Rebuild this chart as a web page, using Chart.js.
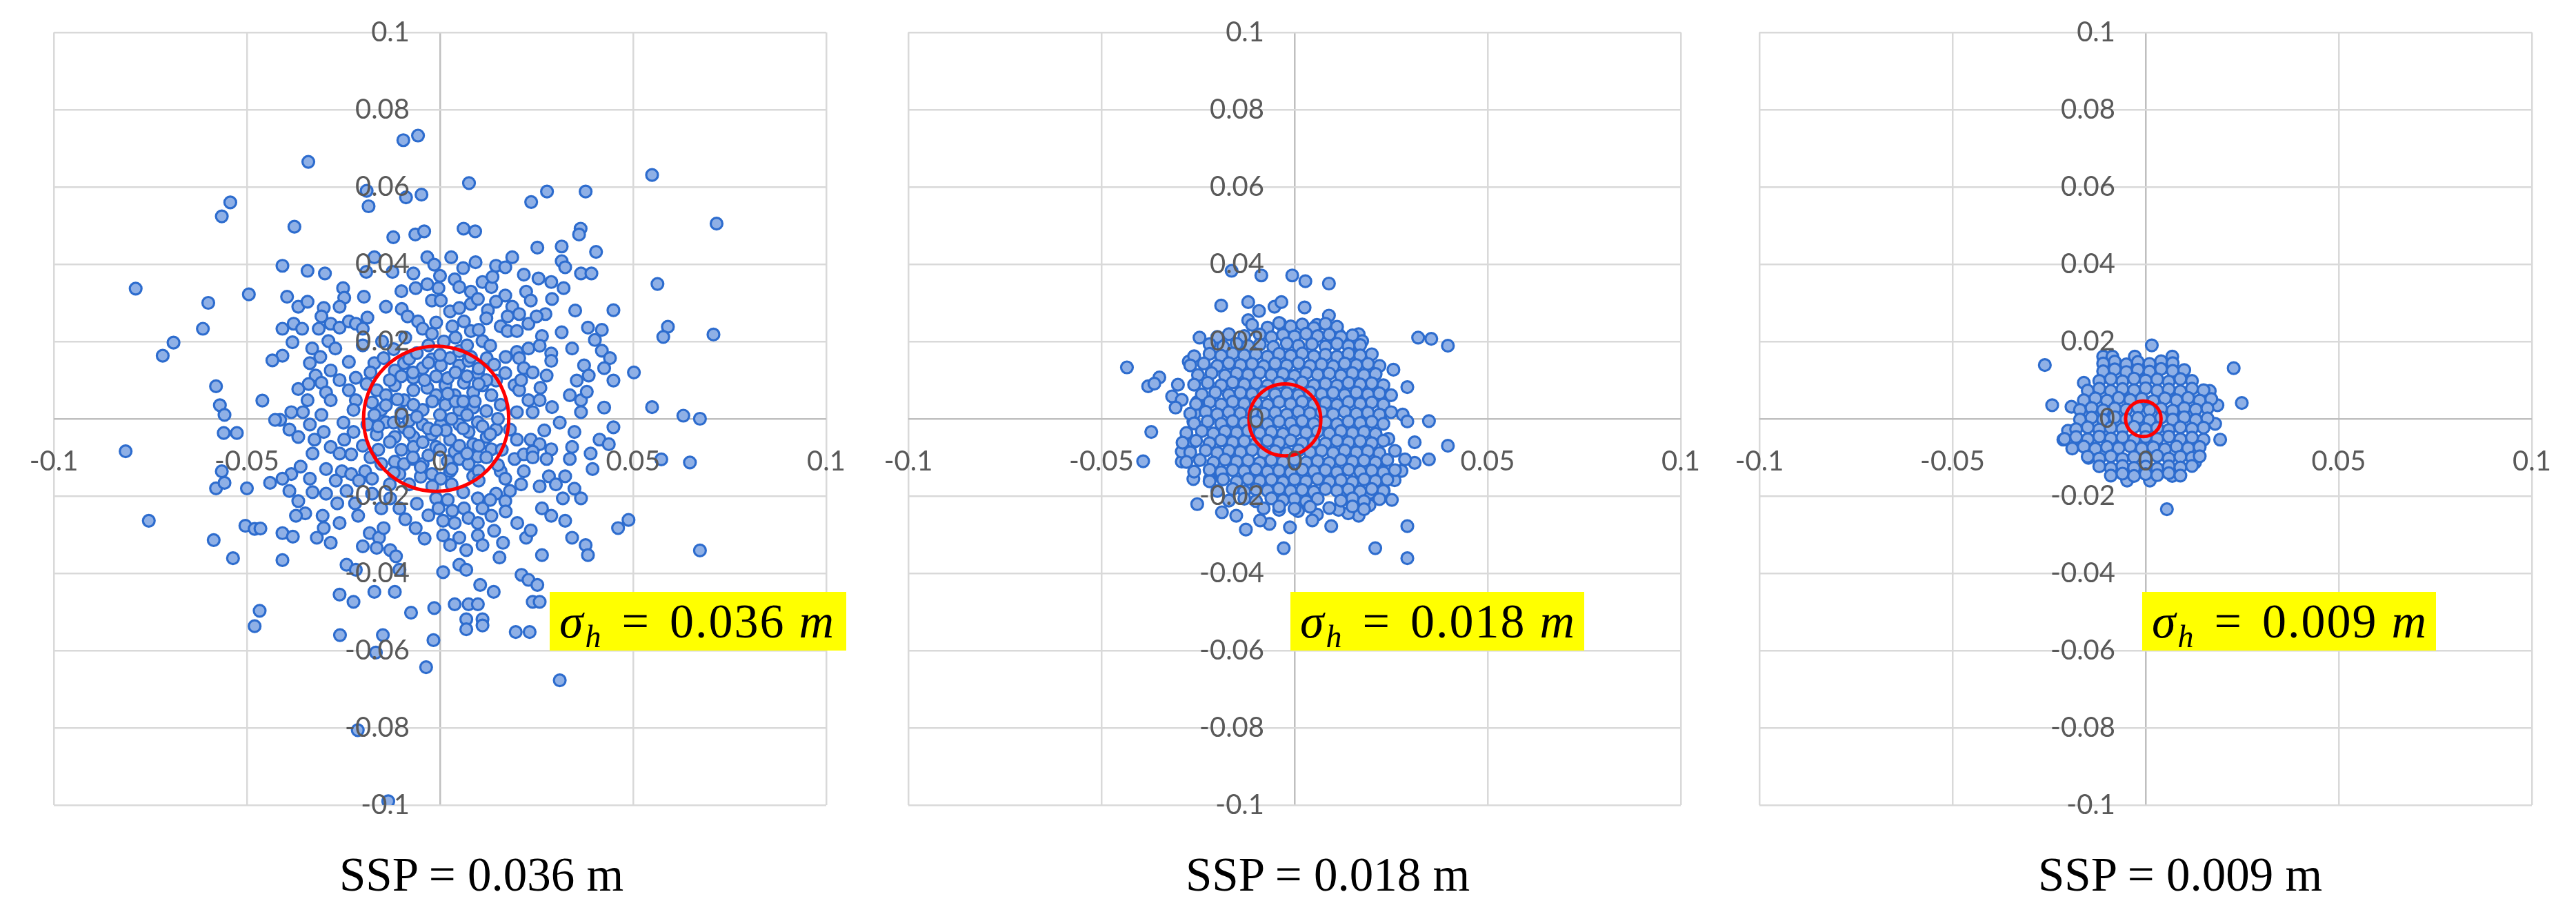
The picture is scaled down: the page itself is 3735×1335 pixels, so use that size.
<!DOCTYPE html>
<html>
<head>
<meta charset="utf-8">
<script src="https://cdn.jsdelivr.net/npm/chart.js@4.4.0/dist/chart.umd.min.js"></script>
<style>
  body { margin: 0; width: 3735px; height: 1335px; background: #fff; position: relative; overflow: hidden; }
  canvas { position: absolute; top: 0; }
  .tag { position: absolute; top: 858px; height: 85px; line-height: 85px; background: #ffff00; color: #000;
         font-family: "Liberation Serif", serif; font-size: 70px; white-space: nowrap; box-sizing: border-box; padding-left: 14px; }
  .tag i { font-style: italic; }
  .tag sub { font-size: 46px; font-style: italic; vertical-align: baseline; position: relative; top: 14px; margin-left: 3px; }
  .tag .eq { margin: 0 30px 0 30px; }
  .tag .num { letter-spacing: 2px; }
  .tag .u { margin-left: 20px; }
  .cap { position: absolute; top: 1228px; width: 600px; height: 80px; line-height: 80px; text-align: center;
         font-family: "Liberation Serif", serif; font-size: 69px; color: #000; white-space: nowrap; }
</style>
</head>
<body>
<canvas id="c1" width="1240" height="1230" style="left:18px"></canvas>
<canvas id="c2" width="1240" height="1230" style="left:1257px"></canvas>
<canvas id="c3" width="1240" height="1230" style="left:2491px"></canvas>

<div class="tag" style="left:797px;width:430px"><i>σ</i><sub>h</sub><span class="eq">=</span><span class="num">0.036</span><i class="u">m</i></div>
<div class="tag" style="left:1871px;width:426px"><i>σ</i><sub>h</sub><span class="eq">=</span><span class="num">0.018</span><i class="u">m</i></div>
<div class="tag" style="left:3106px;width:426px"><i>σ</i><sub>h</sub><span class="eq">=</span><span class="num">0.009</span><i class="u">m</i></div>

<div class="cap" style="left:398px">SSP = 0.036 m</div>
<div class="cap" style="left:1625px">SSP = 0.018 m</div>
<div class="cap" style="left:2861px">SSP = 0.009 m</div>

<script>
// point positions in mm
const ssp036 = [
  [25.2,44.3],[31.5,44.6],[40.4,43.2],[-3.3,41.8],[2.9,41.8],[18.7,41.8],[-17.0,41.8],[-40.8,39.6],[-34.3,38.3],[-29.8,37.6],
  [31.5,40.8],[32.4,39.2],[36.5,37.6],[39.2,37.6],[21.7,37.3],[14.5,39.6],[9.2,40.5],[16.9,39.2],[-1.5,39.9],[-6.9,37.6],
  [-12.3,38.0],[-19.1,38.0],[25.5,36.3],[28.8,35.4],[32.0,33.8],
  [-25.1,33.8],[-39.6,31.6],[-36.7,29.0],[-34.3,30.3],[-30.1,28.7],[-24.8,31.3],[-19.7,31.6],[-6.3,33.8],[-3.3,34.8],[-0.4,33.8],
  [3.8,36.1],[5.0,34.1],[8.0,32.9],[11.0,35.4],[13.3,34.1],[13.6,36.7],[16.9,31.9],[22.3,32.9],[23.5,30.6],[27.3,27.1],
  [-2.1,30.6],[0.2,30.6],[2.6,27.8],[5.0,28.7],[8.0,29.7],[9.8,31.0],[12.4,28.1],[14.5,30.3],[18.7,29.0],[20.5,27.1],
  [17.5,26.5],[44.9,28.1],[-9.9,28.4],[-8.4,26.5],[-5.7,25.2],[-1.0,24.9],
  [-40.8,23.3],[-37.9,24.6],[-35.7,23.3],[-30.7,26.5],[-28.3,24.6],[-31.4,23.3],[-26.0,23.6],[-23.6,25.2],[-21.8,24.6],[-18.8,26.2],
  [-20.0,23.3],[-38.2,19.8],[-33.1,18.2],[-28.9,20.1],[-27.1,18.2],[-4.5,23.3],[-2.1,22.0],[3.2,23.9],[6.2,25.2],[8.0,22.7],
  [11.0,20.1],[13.0,18.9],[15.7,23.9],[17.5,22.7],[19.9,22.7],[22.9,24.6],[25.0,26.5],[26.4,21.4],[31.5,22.4],[38.3,23.6],
  [41.9,23.0],[40.1,20.4],[34.2,18.2],[19.9,17.3],[22.9,18.2],[25.8,18.9],[28.8,16.9],[41.9,17.6],[44.0,15.7],
  [-40.8,16.3],[-33.7,14.4],[-32.2,11.2],[-28.3,12.5],[-30.7,9.3],[-23.6,14.7],[-21.8,10.6],[-17.0,14.4],[-14.6,15.7],[-11.7,12.5],
  [-9.3,14.4],[-6.9,10.6],[-4.5,13.1],[-2.1,15.4],[0.2,13.8],[2.6,15.7],[5.0,13.8],[7.4,15.0],[9.8,11.8],[12.1,15.7],
  [14.5,9.9],[16.9,11.8],[20.5,15.7],[21.7,13.1],[19.3,8.7],[27.6,11.2],[28.8,15.0],[37.3,13.8],[38.5,11.2],[42.5,13.1],
  [44.9,9.9],[35.4,9.9],
  [-36.7,7.7],[-34.3,4.8],[-29.5,6.8],[-28.3,4.8],[-23.6,7.4],[-21.8,4.8],[-38.5,1.7],[-35.5,1.7],[-30.7,1.0],[-22.4,2.3],
  [-16.4,7.4],[-14.0,6.1],[-11.7,8.7],[-9.3,4.8],[-6.9,7.4],[-3.3,8.0],[-1.0,6.1],[1.4,8.7],[3.8,6.1],[6.2,9.3],
  [8.6,6.8],[11.0,8.7],[13.3,6.1],[15.7,3.6],[8.6,2.9],[5.0,2.3],[1.4,3.6],[-4.5,2.3],[-6.9,3.6],[-15.2,2.3],
  [-17.6,4.2],[20.5,7.4],[22.9,4.8],[25.8,4.8],[24.0,1.7],[33.6,6.1],[36.5,4.8],[36.5,1.7],[42.5,2.9],[19.9,1.7],
  [-41.4,-0.3],[-39.0,-2.8],[-36.7,-4.7],[-33.7,-1.5],[-32.5,-5.4],[-30.1,-3.4],[-28.3,-7.3],[-24.8,-5.4],[-22.4,-3.4],[-23.0,-9.2],
  [-18.8,-1.5],[-16.4,-4.1],[-14.0,-0.9],[-11.7,-4.7],[-9.3,-2.2],[-6.9,-4.7],[-4.5,-1.5],[-2.1,-4.1],[0.2,-1.5],[2.6,-5.4],
  [5.0,-1.5],[7.4,-3.4],[9.8,-0.9],[12.1,-4.7],[14.5,-2.8],[13.3,-7.9],[18.1,-2.8],[19.9,-5.4],[23.5,-5.4],[25.8,-6.6],
  [28.8,-7.9],[34.8,-3.4],[44.9,-2.2],[41.3,-5.4],[43.7,-6.6],[-6.9,-7.3],[-4.5,-6.1],[-1.0,-7.3],[3.8,-8.5],[8.6,-6.6],
  [-38.5,-14.3],[-36.1,-12.4],[-33.7,-15.5],[-40.8,-15.5],[-29.5,-13.0],[-25.4,-13.6],[-23.0,-14.3],[-19.4,-13.6],[-17.6,-15.5],[-15.2,-11.7],
  [-11.7,-11.1],[-9.3,-11.7],[-10.5,-14.3],[-6.9,-10.4],[-4.5,-11.7],[-2.1,-14.3],[0.2,-15.5],[2.6,-13.6],[5.0,-10.4],[7.4,-11.7],
  [9.8,-9.8],[8.6,-14.9],[15.7,-13.6],[16.9,-15.5],[19.3,-10.4],[21.7,-9.2],[24.0,-8.5],[27.6,-10.4],[28.2,-14.9],[25.8,-17.5],
  [32.4,-14.9],[34.8,-18.1],[33.6,-10.4],[34.2,-7.3],[39.5,-13.0],[21.7,-13.6],
  [-39.0,-18.7],[-36.7,-21.3],[-34.9,-24.5],[-37.3,-25.1],[-29.5,-19.4],[-26.6,-21.9],[-24.2,-18.7],[-22.0,-21.9],[-17.6,-19.4],[-15.2,-23.2],
  [-12.9,-20.6],[-10.5,-23.2],[-1.0,-20.6],[-0.4,-23.2],[3.2,-23.8],[6.2,-23.2],[9.8,-20.6],[11.0,-23.2],[13.3,-25.1],[14.5,-19.4],
  [18.1,-18.7],[16.9,-21.3],[26.4,-23.2],[28.8,-25.1],[31.8,-20.6],[32.4,-26.4],[36.5,-20.6],[0.8,-26.4],[3.8,-27.0],[7.4,-25.7],
  [9.8,-27.0],[-21.2,-25.1],[-30.4,-25.1],
  [-40.8,-29.6],[-38.1,-30.5],[-31.9,-30.8],[-28.3,-32.1],[-30.1,-28.3],[-18.2,-29.6],[-15.8,-30.8],[-14.6,-28.3],[-16.4,-33.4],[-12.9,-34.0],
  [-6.3,-28.3],[0.8,-30.2],[2.6,-32.7],[5.0,-30.8],[6.8,-34.0],[9.8,-30.2],[11.0,-32.7],[16.3,-32.1],[22.3,-30.8],[23.5,-28.9],
  [26.4,-35.3],[34.2,-30.8],[37.7,-32.7],[38.3,-35.3],[46.1,-28.3],[-40.8,-36.6],[-11.4,-35.6],[15.4,-35.9],
  [-24.2,-37.8],[-21.8,-39.1],[-10.5,-39.1],[0.8,-39.7],[5.0,-37.8],[6.8,-39.1],[21.1,-40.4],[22.9,-41.7],[25.2,-43.0],[-26.0,-45.5],
  [-22.4,-47.4],[-17.0,-44.8],[-11.7,-44.8],[10.4,-43.0],[13.9,-44.8],[3.8,-48.0],[7.4,-48.0],[9.8,-48.0],[24.0,-47.4],[25.8,-47.4],
  [-7.5,-50.2],[-1.5,-49.0],[6.8,-51.9],[11.0,-51.9],
  [-14,3.5],[-12,-1],[-10,1.5],[-8,-0.5],[-6,0.5],[-3,-2.5],[-2,4.5],[0,1],[1.5,-3],[3,0],
  [4,4.5],[6,-2.5],[7,1],[9,4.5],[11,-2],[12,2],[-13,10],[-10,11],[-7,12],[-4,10],
  [-1,11],[2,10.5],[4,12],[7,11],[10,13],[12,10],[-16,-8],[-13,-6],[-10,-8],[-7,-10],
  [-3,-9.5],[0,-8],[2,-11],[5,-7],[7,-9],[10,-7],[12,-10],[-8,15.5],[0,16.5],[5,17.5],
  [-5,-15],[3,-17],[-12,-14],[10,-13.5],[15,0],[16,-8],[-17,1],[-19,9],[-2,-17.5],[8,16],
  [-26,10],[-25,-1],[-20,-7],[-18,12],[-15,20],[-12,18],[-9,21],[-6,17],[-3,19],[1,20],
  [4,21],[7,19],[10,23],[14,14],[17,16],[21,10],[24,12],[26,8],[29,3],[31,-1],
  [27,-3],[24,-10],[21,-17],[17,-24],[13,-21],[10,-16],[6,-19],[2,-21],[-3,-25],[-6,-22],
  [-8,-17],[-13,-17],[-18,-10],[-21,-16],[-26,-9],[-27,-16],[-33,-9],[-34,9],[-31,16],[-26,29],
  [-14,29],[-10,33],[0,37],[6,39],[12,26],[29,31],[35,28],[38,7],[39,-9],[30,-17],
  [20,-27],[14,-29],[-4,-31],[-9,-26],[-20,-33],[-26,-27],[-33,-19],[-5,-12.5],[-1,-3],[3,-13],
  [6,4.5],[-11,5],[-16,-2],[13,-4],[-8,-3.5],[2,6.5],[10,9],[-3,14.5],[-20,19],[15,-12],
  [-78.8,33.7],[-81.4,-8.4],[-75.4,-26.4],[-71.8,16.3],[-69,19.7],[-61.4,23.3],[-60,30],[-56.5,52.4],[-54.3,56],[-58,8.4],
  [-57,3.5],[-55.8,1],[-56,-3.7],[-52.6,-3.7],[-56.5,-13.6],[-58,-18],[-55.8,-16.6],[-58.6,-31.4],[-53.6,-36.1],[-50,-18],
  [-50.4,-27.7],[-48,-28.5],[-46.5,-28.4],[-48,-53.7],[-46.7,-49.7],[-49.5,32.2],[-46,4.7],[-44,-16.6],[-42.7,-0.3],[-43.4,15.1],
  [-37.7,49.7],[-34.1,66.5],[-9.5,72.1],[-5.7,73.3],[7.5,61],[-18.5,55],[-19,59],[-8.8,57.3],[-4.8,58],[-12.1,47],
  [-6.4,47.7],[-4.1,48.5],[6.1,49.2],[9.1,48.5],[23.6,56.1],[27.7,58.8],[37.7,58.8],[54.9,63.1],[71.6,50.5],[36.4,49.2],
  [36,47.7],[56.3,34.9],[59,23.8],[57.8,21.2],[70.8,21.8],[50.2,12],[54.9,3],[63,0.8],[67.3,0],[57.3,-10.5],
  [64.7,-11.3],[67.3,-34.1],[48.8,-26.2],[31,-67.7],[23.2,-55.2],[19.6,-55.2],[-1.7,-57.3],[-3.6,-64.3],[-14.8,-56],[-16.6,-60.5],
  [-21.3,-80.6],[-13.4,-99],[-25.9,-56],[6.8,-54.5],[11,-53.5]
];

const ssp018 = [
  [-43.4,13.3],[-37.9,8.4],[-35,10.7],[-36.3,9.1],[-39.2,-11],[-37.1,-3.4],[-31.7,5.8],[-30.2,8.8],[-29.2,4.9],[-30.8,2.9],
  [-27.4,14.8],[-24.6,21],[-19,29.3],[-16.3,38.3],[-8.6,37.1],[-12,30.2],[-9.2,27.9],[-5.2,29],[-3.4,30.2],[-0.6,37.1],
  [2.8,35.6],[8.9,35],[2.6,28.8],[8.9,26.7],[-12,25.5],[-3.7,24.6],[5.8,24.3],[11.4,21.9],[16.6,21.9],[17.5,20.1],
  [16.6,16.8],[32,21],[35.4,20.7],[39.7,18.9],[25.6,12.7],[29.2,8.2],[20.6,8.5],[23.1,5.2],[23.4,2.3],[22.2,0],
  [28,1.1],[29.2,-0.7],[34.8,-0.6],[31.1,-6.1],[39.7,-7],[24.3,-5.2],[34.8,-10.5],[31.1,-11.4],[28.6,-10.5],[21.9,-10.8],
  [27.7,-13.5],[25.9,-15.9],[23.1,-18.6],[25.2,-21],[19.4,-19.2],[19.4,-22.4],[16.6,-25.1],[13.9,-24.5],[11.4,-23.6],[14.8,-20.4],
  [29.2,-27.8],[20.9,-33.5],[29.2,-36.1],[9.5,-27.8],[5.8,-24.8],[4.6,-26.3],[-1.2,-28.1],[-2.8,-33.5],[-6.5,-27.2],[-8.9,-26.3],
  [-12.6,-28.7],[-15.1,-25.1],[-18.8,-24.2],[-25.2,-22.1],[-26.2,-15.6],[-21.9,-15.6],[-29.2,-11.1],[-29.2,-8.5],[-26.2,-6.1],[-26.2,-0.7],
  [-25.9,1.4],[-25.2,4.3],[0.9,-23.9],[-4,-23.6],
  [-11,24.3],[-7,23.6],[-4,24.8],[-1,23.9],[2,24.4],[5,23.5],[8,24.6],[11,23.8],
  [-20,21.2],[-17,21.9],[-13,21.4],[-9,21.8],[-6,21.1],[-3,21.7],[0,21.3],[3,22.0],[6,21.4],[9,21.8],[12,21.2],[15,21.6],
  [-22,19.3],[-18.5,18.7],[-15,19.4],[-12,18.8],[-9,19.2],[-5.5,18.6],[-2,19.5],[1,18.9],[4.5,19.3],[8,18.7],[11,19.4],[14,18.8],[17,19.1],
  [-26,16.2],[-22,16.8],[-19,16.3],[-16,16.9],[-13,16.4],[-10,16.7],[-7,16.1],[-4,16.8],[-1,16.3],[2,16.9],[5,16.2],[8,16.6],[11,16.1],[14,16.8],[17,16.4],[20,16.7],
  [-27,13.8],[-23.5,14.3],[-20,13.7],[-17,14.4],[-14,13.9],[-11,14.2],[-8,13.6],[-5,14.3],[-2,13.8],[1,14.4],[4,13.7],[7,14.1],[10,13.6],[13,14.3],[16,13.9],[19,14.2],[22,13.7],
  [-25,11.3],[-21.5,11.8],[-18,11.2],[-15,11.7],[-12,11.4],[-9,11.9],[-6,11.3],[-3,11.6],[0,11.1],[3,11.8],[6,11.4],[9,11.7],[12,11.2],[15,11.8],[18,11.3],[21,11.6],
  [-26,8.8],[-22.5,9.3],[-19,8.7],[-16,9.4],[-13,8.9],[-10,9.2],[-7,8.6],[-4,9.3],[-1,8.8],[2,9.4],[5,8.7],[8,9.1],[11,8.6],[14,9.3],[17,8.9],[20,9.2],[23,8.7],
  [-24,6.3],[-20.5,6.8],[-17,6.2],[-14,6.7],[-11,6.4],[-8,6.9],[-5,6.3],[-2,6.6],[1,6.1],[4,6.8],[7,6.4],[10,6.7],[13,6.2],[16,6.8],[19,6.3],[22,6.6],[25,6.1],
  [-25.5,3.8],[-22,4.3],[-19,3.7],[-16,4.4],[-13,3.9],[-10,4.2],[-7,3.6],[-4,4.3],[-1,3.8],[2,4.4],[5,3.7],[8,4.1],[11,3.6],[14,4.3],[17,3.9],[20,4.2],[23,3.7],
  [-27,1.3],[-23,1.8],[-20,1.2],[-17,1.7],[-14,1.4],[-11,1.9],[-8,1.3],[-5,1.6],[-2,1.1],[1,1.8],[4,1.4],[7,1.7],[10,1.2],[13,1.8],[16,1.3],[19,1.6],[22,1.1],[25,1.7],
  [-26,-1.2],[-22.5,-0.7],[-19,-1.3],[-16,-0.6],[-13,-1.1],[-10,-0.8],[-7,-1.4],[-4,-0.7],[-1,-1.2],[2,-0.6],[5,-1.3],[8,-0.9],[11,-1.4],[14,-0.7],[17,-1.1],[20,-0.8],[23,-1.3],
  [-28,-3.7],[-24,-3.2],[-21,-3.8],[-18,-3.3],[-15,-3.6],[-12,-3.1],[-9,-3.7],[-6,-3.4],[-3,-3.9],[0,-3.2],[3,-3.6],[6,-3.3],[9,-3.8],[12,-3.2],[15,-3.7],[18,-3.4],[21,-3.9],
  [-29,-6.2],[-25.5,-5.7],[-22,-6.3],[-19,-5.6],[-16,-6.1],[-13,-5.8],[-10,-6.4],[-7,-5.7],[-4,-6.2],[-1,-5.6],[2,-6.3],[5,-5.9],[8,-6.4],[11,-5.7],[14,-6.1],[17,-5.8],[20,-6.3],[23,-5.7],
  [-27,-8.7],[-23,-8.2],[-20,-8.8],[-17,-8.3],[-14,-8.6],[-11,-8.1],[-8,-8.7],[-5,-8.4],[-2,-8.9],[1,-8.2],[4,-8.6],[7,-8.3],[10,-8.8],[13,-8.2],[16,-8.7],[19,-8.4],[22,-8.9],[26,-8.3],
  [-28,-11.2],[-24.5,-10.7],[-21,-11.3],[-18,-10.6],[-15,-11.1],[-12,-10.8],[-9,-11.4],[-6,-10.7],[-3,-11.2],[0,-10.6],[3,-11.3],[6,-10.9],[9,-11.4],[12,-10.7],[15,-11.1],[18,-10.8],[21,-11.3],[24,-10.7],
  [-26,-13.7],[-22,-13.2],[-19,-13.8],[-16,-13.3],[-13,-13.6],[-10,-13.1],[-7,-13.7],[-4,-13.4],[-1,-13.9],[2,-13.2],[5,-13.6],[8,-13.3],[11,-13.8],[14,-13.2],[17,-13.7],[20,-13.4],[23,-13.9],[26,-13.3],
  [-22,-16.2],[-18.5,-15.7],[-15,-16.3],[-12,-15.6],[-9,-16.1],[-6,-15.8],[-3,-16.4],[0,-15.7],[3,-16.2],[6,-15.6],[9,-16.3],[12,-15.9],[15,-16.4],[18,-15.7],[21,-16.1],[24,-15.8],
  [-20,-18.7],[-16,-18.2],[-13,-18.8],[-10,-18.3],[-7,-18.6],[-4,-18.1],[-1,-18.7],[2,-18.4],[5,-18.9],[8,-18.2],[11,-18.6],[14,-18.3],[17,-18.8],[20,-18.2],[23,-18.7],
  [-17,-21.2],[-13,-20.7],[-10,-21.3],[-6,-20.6],[-3,-21.1],[0,-20.8],[3,-21.4],[6,-20.7],[12,-21.2],[15,-20.6],[18,-21.3],[22,-20.8],
  [-8,-23.2],[-4,-22.7],[0,-23.3],[4,-22.8],[9,-23.1],[15,-22.7],[18,-23.4]
];

const ssp009 = [
  [-26.1,13.9],[-24.2,3.5],[-19.2,3.1],[22.8,13.1],[24.9,4.1],[19.3,-5.4],[18,-1.3],[18.6,3.5],[5.5,-23.4],[1.6,19],
  [-21.3,-5.4],[-20.1,-3.1],[-16,9.3],[-11,16.1],[-8.6,16.1],[-2.8,16.1],[6.9,16.1],[16.6,7.2],[-4.8,-16],[1.1,-16],
  [6.9,-14.8],[-14.8,-10.1],[12.8,-11.3],
  [-11,14.3],[-8,14.8],[-5,14.1],[-2,14.7],[1,14.2],[4,14.9],[7,14.4],
  [-11,12.3],[-8,12.8],[-5,12.1],[-2,12.7],[1,12.2],[4,12.9],[7,12.4],[10,12.6],
  [-12,9.8],[-9,10.3],[-6,9.7],[-3,10.4],[0,9.9],[3,10.2],[6,9.6],[9,10.3],[12,9.8],
  [-15,7.3],[-12,7.8],[-9,7.2],[-6,7.7],[-3,7.4],[0,7.9],[3,7.3],[6,7.6],[9,7.1],[12,7.8],[15,7.4],
  [-16,4.8],[-13,5.3],[-10,4.7],[-7,5.4],[-4,4.9],[-1,5.2],[2,4.6],[5,5.3],[8,4.8],[11,5.4],[14,4.7],[17,5.1],
  [-17,2.3],[-14,2.8],[-11,2.2],[-8,2.7],[-5,2.4],[-2,2.9],[1,2.3],[4,2.6],[7,2.1],[10,2.8],[13,2.4],[16,2.7],
  [-17,-0.2],[-14,0.3],[-11,-0.3],[-8,0.4],[-5,-0.1],[-2,0.2],[1,-0.4],[4,0.3],[7,-0.2],[10,0.4],[13,-0.3],[16,0.1],
  [-18,-2.7],[-15,-2.2],[-12,-2.8],[-9,-2.3],[-6,-2.6],[-3,-2.1],[0,-2.7],[3,-2.4],[6,-2.9],[9,-2.2],[12,-2.6],[15,-2.3],
  [-21,-5.2],[-18,-4.7],[-15,-5.3],[-12,-4.6],[-9,-5.1],[-6,-4.8],[-3,-5.4],[0,-4.7],[3,-5.2],[6,-4.6],[9,-5.3],[12,-4.9],[15,-5.4],
  [-19,-7.7],[-16,-7.2],[-13,-7.8],[-10,-7.3],[-7,-7.6],[-4,-7.1],[-1,-7.7],[2,-7.4],[5,-7.9],[8,-7.2],[11,-7.6],[14,-7.3],
  [-15,-9.8],[-12,-10.3],[-9,-9.7],[-6,-10.4],[-3,-9.9],[0,-10.2],[3,-9.6],[6,-10.3],[9,-9.8],[12,-10.1],[14,-9.7],
  [-12,-12.3],[-9,-12.8],[-6,-12.2],[-3,-12.7],[0,-12.4],[3,-12.9],[6,-12.3],[9,-12.6],[12,-12.2],
  [-9,-14.7],[-6,-14.2],[-3,-14.8],[0,-14.3],[3,-14.6],[6,-14.1],[9,-14.7]
];

// red circles: centre and radius in mm
const rings = [
  { cx: -1.0, cy: 0, r: 18.8 },
  { cx: -2.5, cy: -0.3, r: 9.3 },
  { cx: -0.6, cy: 0, r: 4.6 }
];

const xTicks = [-0.1, -0.05, 0, 0.05, 0.1];
const yTicks = [-0.1, -0.08, -0.06, -0.04, -0.02, 0, 0.02, 0.04, 0.06, 0.08, 0.1];

const fmt = (v) => String(+v.toFixed(2));
const toPts = (arr) => arr.map((p) => ({ x: p[0] / 1000, y: p[1] / 1000 }));

const decor = {
  id: "decor",
  afterDatasetsDraw(chart, args, opts) {
    const { ctx, scales: { x, y } } = chart;
    const x0 = x.getPixelForValue(0);
    const y0 = y.getPixelForValue(0);
    ctx.save();
    // ring
    const cx = x.getPixelForValue(opts.cx / 1000);
    const cy = y.getPixelForValue(opts.cy / 1000);
    const r = Math.abs(x.getPixelForValue((opts.cx + opts.r) / 1000) - cx);
    ctx.beginPath();
    ctx.arc(cx, cy, r, 0, Math.PI * 2);
    ctx.strokeStyle = "#ff0000";
    ctx.lineWidth = 5;
    ctx.stroke();
    // axis labels next to the zero lines
    ctx.font = "40px Lato";
    ctx.fillStyle = "#595959";
    ctx.textBaseline = "middle";
    ctx.textAlign = "right";
    yTicks.forEach((v) => ctx.fillText(fmt(v), x0 - 44, y.getPixelForValue(v)));
    ctx.textAlign = "center";
    xTicks.forEach((v) => ctx.fillText(fmt(v), x.getPixelForValue(v), y0 + 62));
    ctx.restore();
  }
};

const gridColor = (c) => (c.tick && c.tick.value === 0 ? "#bfbfbf" : "#d9d9d9");

function makeChart(id, pts, ring) {
  return new Chart(document.getElementById(id), {
    type: "scatter",
    data: {
      datasets: [{
        data: toPts(pts),
        pointRadius: 8.5,
        pointHoverRadius: 8.5,
        borderWidth: 3.2,
        borderColor: "rgb(45,108,206)",
        backgroundColor: "rgb(143,176,230)"
      }]
    },
    options: {
      responsive: false,
      devicePixelRatio: 1,
      animation: false,
      events: [],
      layout: { padding: { left: 60, right: 60, top: 47, bottom: 63 } },
      plugins: { legend: { display: false }, tooltip: { enabled: false }, decor: ring },
      scales: {
        x: {
          type: "linear", min: -0.1, max: 0.1,
          position: { y: 0 },
          afterBuildTicks: (s) => { s.ticks = xTicks.map((v) => ({ value: v })); },
          ticks: { display: false },
          grid: { color: gridColor, lineWidth: 2.5, drawTicks: false },
          border: { display: false }
        },
        y: {
          type: "linear", min: -0.1, max: 0.1,
          position: { x: 0 },
          afterBuildTicks: (s) => { s.ticks = yTicks.map((v) => ({ value: v })); },
          ticks: { display: false },
          grid: { color: gridColor, lineWidth: 2.5, drawTicks: false },
          border: { display: false }
        }
      }
    },
    plugins: [decor]
  });
}

makeChart("c1", ssp036, rings[0]);
makeChart("c2", ssp018, rings[1]);
makeChart("c3", ssp009, rings[2]);
</script>
</body>
</html>
